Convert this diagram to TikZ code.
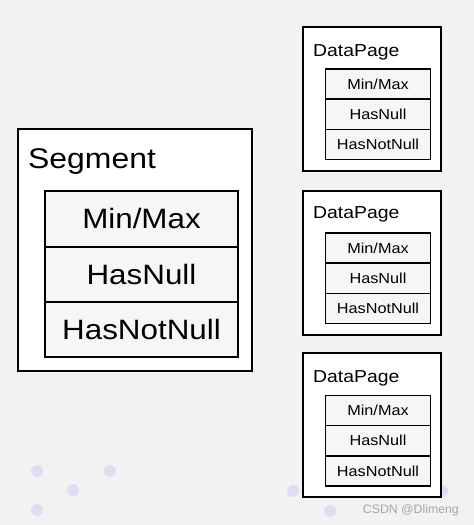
\documentclass[tikz,border=0pt]{standalone}
\usepackage{fontspec}
\setmainfont[FakeStretch=1.12]{Liberation Sans}
\newfontfamily\wmfont{Liberation Sans}
\definecolor{bggray}{HTML}{F2F2F2}
\definecolor{cellgray}{HTML}{F6F6F6}
\definecolor{dotcol}{HTML}{DEDDF2}
\definecolor{wmgray}{HTML}{A6A6A6}
\tikzset{
  outerbox/.style={draw=black, line width=1.5pt, fill=white, rectangle, inner sep=0pt},
  cellbox/.style={draw=black, line width=1.5pt, fill=cellgray, rectangle, inner sep=0pt, text depth=0pt},
  bigcell/.style={cellbox, font=\fontsize{28}{30}\selectfont, minimum width=193pt, text height=19pt},
  smallcell/.style={cellbox, font=\fontsize{14.5}{16}\selectfont, minimum width=105pt, text height=10pt},
  titletext/.style={inner sep=0pt, anchor=base west},
  deco/.style={fill=dotcol, draw=none}
}
\begin{document}
\begin{tikzpicture}[x=1pt,y=-1pt]
  \path[fill=bggray] (0,0) rectangle (474,525);
  \useasboundingbox (0,0) rectangle (474,525);
  % decorative dots
  \foreach \px/\py in {37/471,110/471,73/490,37/510,293/491,330/511,442/491}
    \fill[dotcol] (\px,\py) circle (6pt);
  % Segment
  \node[outerbox, minimum width=234pt, minimum height=242pt] (seg) at (135,250) {};
  \node[titletext, font=\fontsize{28.5}{30}\selectfont] (segtitle) at (28,168) {Segment};
  \node[bigcell, minimum height=56pt] (segmm) at (141.5,219) {Min/Max};
  \node[bigcell, minimum height=55pt] (seghn) at (141.5,274.5) {HasNull};
  \node[bigcell, minimum height=55pt] (seghnn) at (141.5,329.5) {HasNotNull};
  % DataPages
  \foreach \i/\cy/\ty/\tb in {1/99/56/69, 2/263/218/233, 3/425/382/395.5}{
    \node[outerbox, minimum width=138pt, minimum height=144pt] (dp\i) at (372,\cy) {};
    \node[titletext, font=\fontsize{17.3}{19}\selectfont] (dpt\i) at (313,\ty) {DataPage};
    \node[smallcell, minimum height=30.2pt] (dpmm\i) at (378,\tb+15.1) {Min/Max};
    \node[smallcell, minimum height=30.2pt] (dphn\i) at (378,\tb+45.3) {HasNull};
    \node[smallcell, minimum height=30.2pt] (dphnn\i) at (378,\tb+75.5) {HasNotNull};
  }
  % watermark
  \node[inner sep=0pt, anchor=base east, text=wmgray, font=\wmfont\fontsize{12.3}{14}\selectfont] (wm) at (459,513) {CSDN @Dlimeng};
\end{tikzpicture}
\end{document}
